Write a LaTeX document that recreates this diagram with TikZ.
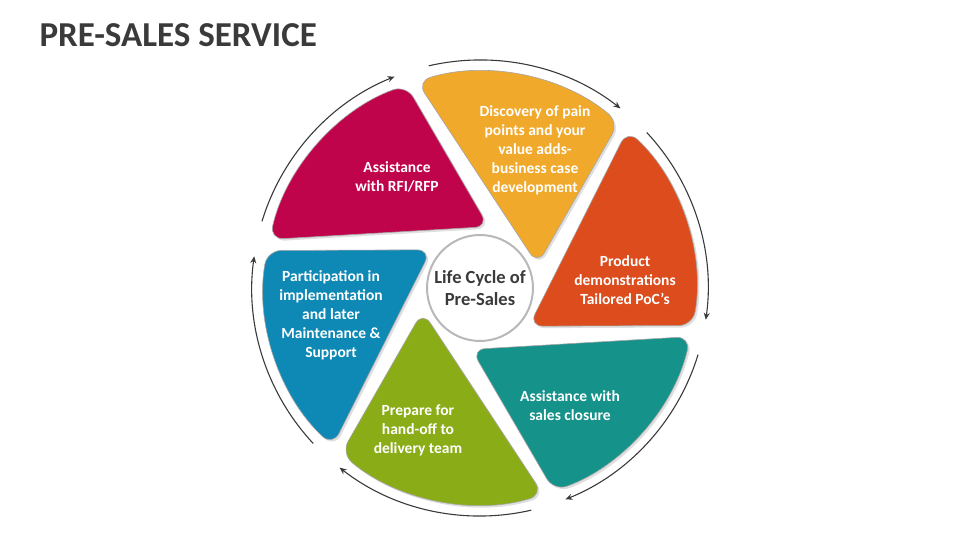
\documentclass[tikz,border=0pt]{standalone}
\usepackage{fontspec}
\setmainfont{Carlito}
\usetikzlibrary{calc,shadows,arrows.meta}
\definecolor{cred}{HTML}{C0044C}
\definecolor{cyel}{HTML}{F0A92A}
\definecolor{cora}{HTML}{DC4C1C}
\definecolor{ctea}{HTML}{15928A}
\definecolor{cgre}{HTML}{8AAD17}
\definecolor{cblu}{HTML}{0E88B4}
\definecolor{ctxt}{HTML}{3A3A3A}
\begin{document}
\begin{tikzpicture}[x=1pt,y=1pt,
  petal/.style={rounded corners=14pt,draw=black!35,line width=0.6pt,drop shadow={opacity=0.25,shadow xshift=2pt,shadow yshift=-2pt}},
  ptxt/.style={text=white,font=\bfseries\fontsize{15.5}{19}\selectfont,align=center},
  cyc/.style={draw=ctxt,line width=1.1pt,-{Stealth[length=7pt,width=6pt]}}]
\useasboundingbox (0,0) rectangle (960,540);
\coordinate (C) at (480,252);
\node[anchor=west,text=ctxt,font=\bfseries\fontsize{35}{40}\selectfont] (title) at (36,505) {PRE-SALES SERVICE};
\foreach \A/\col in {167/cred,107/cyel,47/cora,-13/ctea,-73/cgre,227/cblu}{
  \fill[petal,fill=\col] ($(C)+(\A:216)$) arc[start angle=\A,end angle=\A-57,radius=216]
     -- ($(C)+(\A-85:62)$) -- cycle;
  \draw[cyc] ($(C)+(\A-4:228)$) arc[start angle=\A-4,end angle=\A-55,radius=228];
}
\node[circle,draw=black!28,line width=2pt,fill=white,minimum size=106pt] (ctr) at (C) {};
\node[align=center,text=ctxt,font=\bfseries\fontsize{18.5}{22}\selectfont] (ctrt) at (C) {Life Cycle of\\Pre-Sales};
\node[ptxt] (t1) at (397,363) {Assistance\\with RFI/RFP};
\node[ptxt] (t2) at (535,390) {Discovery of pain\\points and your\\value adds-\\business case\\development};
\node[ptxt] (t3) at (625,260) {Product\\demonstrations\\Tailored PoC’s};
\node[ptxt] (t4) at (570,134) {Assistance with\\sales closure};
\node[ptxt] (t5) at (418,110) {Prepare for\\hand-off to\\delivery team};
\node[ptxt] (t6) at (331,225) {Participation in\\implementation\\and later\\Maintenance \&\\Support};
\end{tikzpicture}
\end{document}
